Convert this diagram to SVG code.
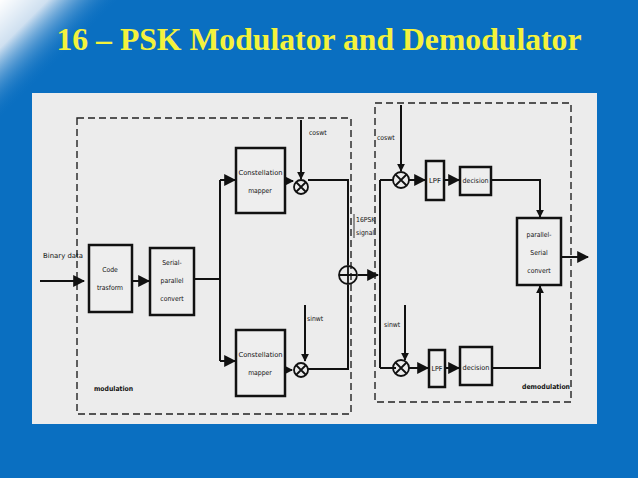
<svg xmlns="http://www.w3.org/2000/svg" width="638" height="478" viewBox="0 0 638 478">
<defs>
<linearGradient id="glow" x1="0" y1="0" x2="60" y2="60" gradientUnits="userSpaceOnUse">
<stop offset="0" stop-color="#ffffff"/><stop offset="0.4" stop-color="#cfe0f0"/><stop offset="1" stop-color="#0a6fc1" stop-opacity="0"/>
</linearGradient>
<marker id="ah" viewBox="0 0 10 10" refX="9" refY="5" markerWidth="4" markerHeight="4" orient="auto"><path d="M0,0 L10,5 L0,10 z" fill="#111"/></marker>
<marker id="as" viewBox="0 0 10 10" refX="9" refY="5" markerWidth="6" markerHeight="6" orient="auto"><path d="M0,0 L10,5 L0,10 z" fill="#111"/></marker>
</defs>
<style>
.b{fill:#eeeeee;stroke:#111;stroke-width:2.5}
.d{fill:none;stroke:#222;stroke-width:1.4;stroke-dasharray:7,4}
.l{fill:none;stroke:#111;stroke-width:2}
.t{font-family:"DejaVu Sans Condensed","Liberation Sans Narrow",sans-serif;font-size:6.8px;fill:#111}
.c{fill:none;stroke:#111;stroke-width:1.8}
</style>
<rect width="638" height="478" fill="#0a6fc1"/>
<rect width="638" height="478" fill="url(#glow)"/>
<text x="319" y="50" text-anchor="middle" font-family="Liberation Serif,serif" font-weight="bold" font-size="32" fill="#f4f23c" textLength="525" lengthAdjust="spacingAndGlyphs">16 – PSK Modulator and Demodulator</text>
<rect x="32" y="93" width="565" height="331" fill="#ececec"/>
<rect class="d" x="77" y="118" width="274" height="296"/>
<rect class="d" x="375" y="103" width="196" height="299"/>
<g id="connectors">
<path class="l" d="M40,281 H84" marker-end="url(#as)"/>
<path class="l" d="M132,281 H149" marker-end="url(#as)"/>
<path class="l" d="M194,279 H220 M220,180 V361"/>
<path class="l" d="M220,180 H235" marker-end="url(#as)"/>
<path class="l" d="M220,361 H235" marker-end="url(#as)"/>
<path class="l" d="M285,181 H293" marker-end="url(#as)"/>
<path class="l" d="M285,370 H292" marker-end="url(#as)"/>
<path class="l" d="M301,120 V179" marker-end="url(#ah)"/>
<path class="l" d="M305,305 V361" marker-end="url(#ah)"/>
<path class="l" d="M308,180 H348 V265 M308,369 H348 V285"/>
<path class="l" d="M358,275 H378" marker-end="url(#as)"/>
<path class="l" d="M380,180 V368 M380,180 H393 M380,368 H396"/>
<path class="l" d="M401,105 V171" marker-end="url(#ah)"/>
<path class="l" d="M405,305 V360" marker-end="url(#ah)"/>
<path class="l" d="M409,180 H425" marker-end="url(#as)"/>
<path class="l" d="M444,180 H459" marker-end="url(#as)"/>
<path class="l" d="M409,368 H428" marker-end="url(#as)"/>
<path class="l" d="M445,368 H459" marker-end="url(#as)"/>
<path class="l" d="M491,180 H540 V217" marker-end="url(#ah)"/>
<path class="l" d="M492,368 H540 V286" marker-end="url(#ah)"/>
<path class="l" d="M561,257 H588" marker-end="url(#as)"/>
<path d="M354,214 V238" stroke="#333" stroke-width="1"/>
</g>
<g id="code"><rect class="b" x="89" y="245" width="43" height="67"/><text class="t" x="110" y="272" text-anchor="middle">Code</text><text class="t" x="110" y="290" text-anchor="middle">trasform</text></g>
<g id="sp"><rect class="b" x="150" y="248" width="44" height="67"/><text class="t" x="172" y="265" text-anchor="middle">Serial-</text><text class="t" x="172" y="283" text-anchor="middle">parallel</text><text class="t" x="172" y="301" text-anchor="middle">convert</text></g>
<g id="cm1"><rect class="b" x="236" y="148" width="49" height="65"/><text class="t" x="260.5" y="175" text-anchor="middle" textLength="44" lengthAdjust="spacingAndGlyphs">Constellation</text><text class="t" x="260" y="193" text-anchor="middle">mapper</text></g>
<g id="cm2"><rect class="b" x="236" y="330" width="49" height="66"/><text class="t" x="260.5" y="357" text-anchor="middle" textLength="44" lengthAdjust="spacingAndGlyphs">Constellation</text><text class="t" x="260" y="375" text-anchor="middle">mapper</text></g>
<g id="m1"><circle class="c" cx="301" cy="187" r="7"/><path class="c" d="M296,182 L306,192 M306,182 L296,192"/></g>
<g id="m2"><circle class="c" cx="301" cy="370" r="7"/><path class="c" d="M296,365 L306,375 M306,365 L296,375"/></g>
<g id="sum"><circle class="c" cx="348" cy="275" r="9"/><path class="c" d="M339,275 H357 M348,266 V284"/></g>
<g id="m3"><circle class="c" cx="401" cy="180" r="8"/><path class="c" d="M395.5,174.5 L406.5,185.5 M406.5,174.5 L395.5,185.5"/></g>
<g id="m4"><circle class="c" cx="401" cy="368" r="8"/><path class="c" d="M395.5,362.5 L406.5,373.5 M406.5,362.5 L395.5,373.5"/></g>
<g id="lpf1"><rect class="b" x="426" y="161" width="18" height="39"/><text class="t" x="435" y="183" text-anchor="middle" textLength="12" lengthAdjust="spacingAndGlyphs">LPF</text></g>
<g id="lpf2"><rect class="b" x="429" y="350" width="16" height="37"/><text class="t" x="437" y="371" text-anchor="middle" textLength="11" lengthAdjust="spacingAndGlyphs">LPF</text></g>
<g id="dec1"><rect class="b" x="460" y="167" width="31" height="28"/><text class="t" x="475.5" y="183" text-anchor="middle" textLength="26" lengthAdjust="spacingAndGlyphs">decision</text></g>
<g id="dec2"><rect class="b" x="460" y="347" width="32" height="38"/><text class="t" x="476" y="370" text-anchor="middle" textLength="27" lengthAdjust="spacingAndGlyphs">decision</text></g>
<g id="ps"><rect class="b" x="517" y="218" width="44" height="67"/><text class="t" x="539" y="237" text-anchor="middle">parallel-</text><text class="t" x="539" y="255" text-anchor="middle">Serial</text><text class="t" x="539" y="273" text-anchor="middle">convert</text></g>
<g id="labels">
<text class="t" x="43" y="258" textLength="40" lengthAdjust="spacingAndGlyphs">Binary data</text>
<text class="t" x="309" y="135">coswt</text>
<text class="t" x="307" y="321">sinwt</text>
<text class="t" x="377" y="140">coswt</text>
<text class="t" x="384" y="327">sinwt</text>
<text class="t" x="356" y="222">16PSK</text>
<text class="t" x="356" y="235">signal</text>
<text class="t" x="94" y="391" font-size="8" font-weight="bold">modulation</text>
<text class="t" x="522" y="389" font-size="8" font-weight="bold" textLength="48" lengthAdjust="spacingAndGlyphs">demodulation</text>
</g>
</svg>
